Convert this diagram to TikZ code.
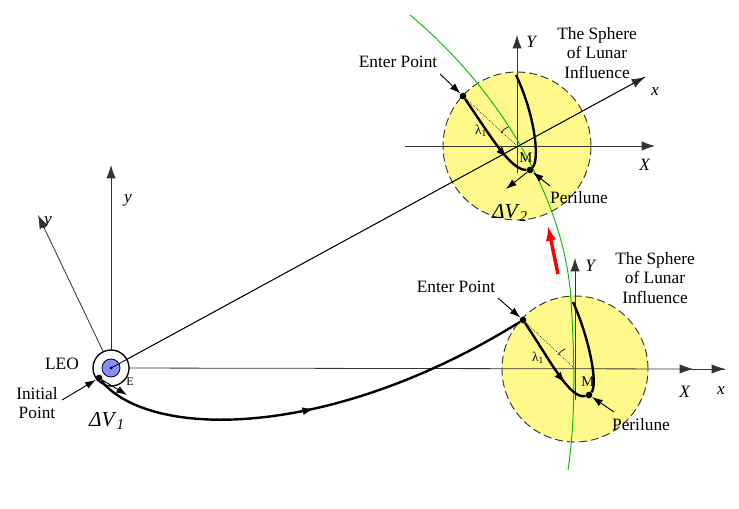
\documentclass[tikz,border=0pt]{standalone}
\usepackage{fontspec}
\setmainfont{Liberation Serif}
\usetikzlibrary{arrows.meta,decorations.markings}
\begin{document}
\begin{tikzpicture}[x=0.75pt,y=-0.75pt,
  ax/.style={draw=black!80,line width=0.6pt,-{Latex[length=10pt,width=7pt]}},
  soi/.style={draw=black!80,fill=yellow!45,dashed,dash pattern=on 6pt off 3pt,line width=0.7pt},
  traj/.style={line width=1.8pt},
  lab/.style={font=\fontsize{13}{14.5}\selectfont,inner sep=1pt},
  ptr/.style={line width=0.7pt,-{Latex[length=8pt,width=5.5pt]}},
  dot/.style={circle,fill=black,inner sep=0pt,minimum size=5pt},
  mid/.style={postaction=decorate,decoration={markings,mark=at position #1 with {\arrow{Latex[length=9pt,width=6pt]}}}}]
\path[fill=white] (0,0) rectangle (739,509);
\node[soi,circle,minimum size=148*0.75pt] (S2) at (517,146) {};
\node[soi,circle,minimum size=146*0.75pt] (S1) at (575,369) {};
\coordinate (M2) at (517,146);
\coordinate (M1) at (575,369);
\coordinate (E) at (111,368);
\coordinate (yE) at (111,165);
\coordinate (yR) at (38,215);
\coordinate (xR) at (645,77);
\coordinate (XE) at (693,369);
\coordinate (xE) at (725,369);
\draw[ax] (E) -- (yE);
\draw[ax] (E) -- (yR);
\draw[ax] (E) -- (xR);
\draw[ax] (E) -- (XE);
\draw[draw=black!80,line width=0.6pt] (XE) -- (xE);
\draw[ax] (690,369) -- (xE);
\coordinate (Yt0) at (517,173); \coordinate (Yt) at (517,35);
\coordinate (Xt0) at (405,146); \coordinate (Xt) at (655,146);
\draw[ax] (Yt0) -- (Yt);
\draw[ax] (Xt0) -- (Xt);
\coordinate (Yb0) at (575,400); \coordinate (Yb) at (575,258);
\draw[ax] (Yb0) -- (Yb);
\draw[green!75!black,line width=0.7pt] (410,15) .. controls (500,90) and (565,200) .. (571,300) .. controls (576,380) and (574,430) .. (568,470);
\draw[red,line width=2.6pt,-{Latex[length=11pt,width=8pt]}] (558,274) -- (548,226);
\node[circle,draw,line width=1pt,minimum size=36*0.75pt,fill=white] (LEO) at (E) {};
\node[circle,draw,fill=blue!45,minimum size=18*0.75pt,line width=0.6pt] (earth) at (E) {};
\node[circle,fill=black,inner sep=0pt,minimum size=2.5pt] (Ec) at (E) {};
\draw[line width=0.6pt] (E) -- (xR);
\node[dot] (IP) at (99,378) {};
\node[dot] (EP1) at (523,320) {};
\draw[traj,mid=0.5] (IP) .. controls (150,440) and (330,440) .. (EP1);
\node[dot] (PL1) at (589,395) {};
\draw[densely dotted,line width=0.5pt] (EP1) -- (M1);
\draw[traj,mid=0.38] (EP1) .. controls (550,360) and (570,400) .. (PL1) .. controls (598,385) and (590,340) .. (573,302);
\draw[line width=0.5pt] (558,355) arc (210:250:14);
\node[dot] (EP2) at (463,96) {};
\node[dot] (PL2) at (530,170) {};
\draw[densely dotted,line width=0.5pt] (EP2) -- (M2);
\draw[traj,mid=0.38] (EP2) .. controls (490,135) and (510,170) .. (PL2) .. controls (540,160) and (535,115) .. (516,75);
\draw[line width=0.5pt] (501,133) arc (210:250:14);
\coordinate (dv1) at (127,395);
\draw[ptr] (IP) -- (dv1);
\coordinate (dv2) at (506,189);
\draw[ptr] (PL2) -- (dv2);
\node[lab] (yl1) at (128,200) {\textit{y}};
\node[lab] (yl2) at (48,222) {\textit{y}};
\node[lab] (xl1) at (655,92) {\textit{x}};
\node[lab] (Xl1) at (685,392) {\textit{X}};
\node[lab] (xl2) at (721,391) {\textit{x}};
\node[lab] (Yl1) at (532,42) {\textit{Y}};
\node[lab] (Xl2) at (645,165) {\textit{X}};
\node[lab] (Yl2) at (591,266) {\textit{Y}};
\node[lab] (LEOl) at (62,364) {LEO};
\node[lab] (El) at (130,382) {\fontsize{9}{10}\selectfont E};
\node[lab,align=center] (IPl) at (37,403) {Initial\\Point};
\draw[ptr] (62,400) -- (IP);
\node[lab] (dv1l) at (107,421) {\fontsize{16}{17}\selectfont\textit{ΔV}\textsubscript{\textit{1}}};
\node[lab] (dv2l) at (510,213) {\fontsize{16}{17}\selectfont\textit{ΔV}\textsubscript{\textit{2}}};
\node[lab] (M1l) at (588,382) {\fontsize{11}{12}\selectfont M};
\node[lab] (M2l) at (526,158) {\fontsize{11}{12}\selectfont M};
\node[lab] (la1) at (538,358) {\fontsize{10}{11}\selectfont λ\textsubscript{1}};
\node[lab] (la2) at (481,131) {\fontsize{10}{11}\selectfont λ\textsubscript{1}};
\node[lab] (EPl1) at (456,287) {Enter Point};
\node[lab] (EPl2) at (398,62) {Enter Point};
\draw[ptr] (498,298) -- (EP1);
\draw[ptr] (440,74) -- (EP2);
\node[lab] (PLl1) at (641,425) {Perilune};
\node[lab] (PLl2) at (579,198) {Perilune};
\draw[ptr] (614,412) -- (PL1);
\draw[ptr] (550,186) -- (PL2);
\node[lab,align=center] (S1l) at (655,278) {The Sphere\\of Lunar\\Influence};
\node[lab,align=center] (S2l) at (597,53) {The Sphere\\of Lunar\\Influence};
\end{tikzpicture}
\end{document}
